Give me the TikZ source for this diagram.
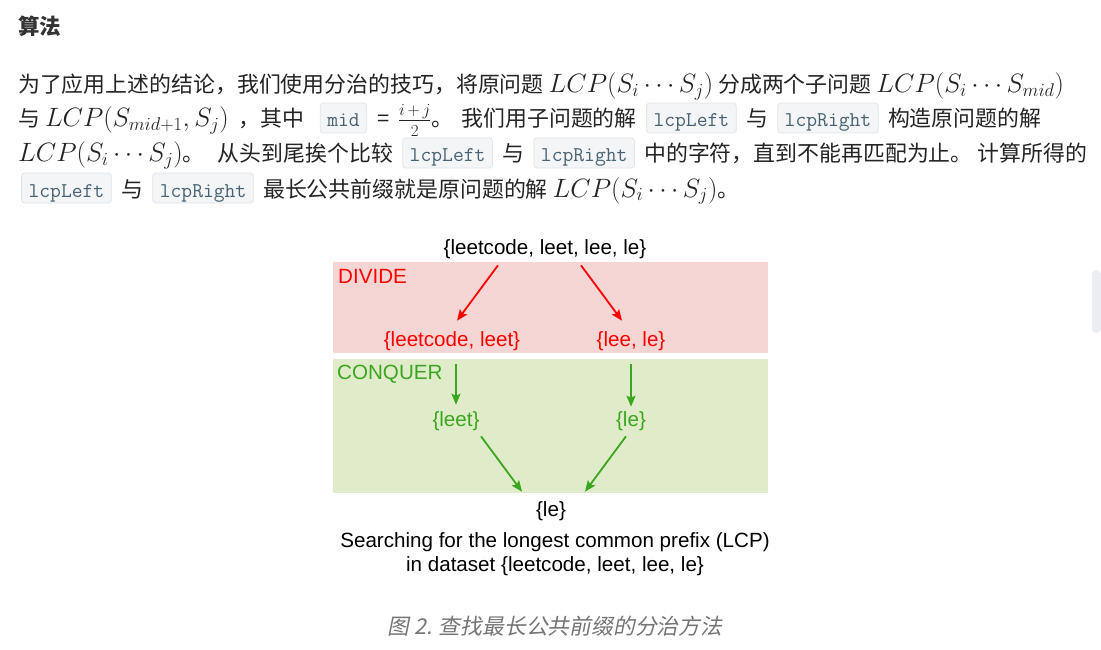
\documentclass[tikz,border=0pt]{standalone}
\usepackage{fix-cm}
\usepackage{amsmath}
\usepackage{fontspec}
\usetikzlibrary{arrows.meta}
\newfontfamily\cjk{Noto Sans CJK SC}
\newfontfamily\cjkit[FakeSlant=0.2]{Noto Sans CJK SC}
\newfontfamily\arial{Liberation Sans}
\definecolor{divbg}{RGB}{246,213,213}
\definecolor{conqbg}{RGB}{224,236,201}
\definecolor{conqgreen}{RGB}{58,166,32}
\definecolor{codebg}{RGB}{243,245,247}
\definecolor{codeline}{RGB}{224,229,234}
\definecolor{codetext}{RGB}{72,98,114}
\definecolor{bodytext}{RGB}{36,36,36}
\definecolor{headtext}{RGB}{51,51,51}
\definecolor{capgray}{RGB}{117,117,117}
\definecolor{scrollbg}{RGB}{234,238,242}
\tikzset{
	codebox/.style={draw=codeline, fill=codebg, rounded corners=3pt, line width=0.8pt,
		inner xsep=7pt, inner ysep=5pt, text height=19pt, text depth=1pt,
		text=codetext, font=\fontsize{21}{24}\ttfamily\selectfont}
}
\newcommand{\mth}[1]{{\fontsize{26.5}{30}\selectfont$#1$}}
\newcommand{\fracpart}[1]{\mbox{\fontsize{17}{17}\selectfont$#1$}}
\newcommand{\code}[1]{\hspace{4.5pt}\tikz[baseline=(cb.base)]\node[codebox] (cb) {#1};\hspace{4.5pt}}

\begin{document}
\begin{tikzpicture}[line join=round, x=1pt, y=-1pt, >={Stealth[length=11pt, width=9pt, inset=2pt]},
	para/.style={inner sep=0pt, anchor=base west, text=bodytext, font=\cjk\fontsize{21.9}{25}\selectfont},
	lbl/.style={inner sep=0pt, font=\arial\fontsize{20.6}{24.5}\selectfont},
	divarr/.style={->, red, line width=1.8pt},
	conqarr/.style={->, conqgreen, line width=1.8pt}]
	\fill[white] (0,0) rectangle (1101,650);
	\useasboundingbox (0,0) rectangle (1101,650);
	\fill[scrollbg, rounded corners=4pt] (1092,270) rectangle (1101,333);
	% text above the figure
	\node[para, text=headtext, font=\cjk\bfseries\fontsize{21.5}{25}\selectfont] (head) at (18,35) {算法};
	\node[para] (l1) at (18,93) {为了应用上述的结论，我们使用分治的技巧，将原问题 \mth{LCP(S_i\cdots S_j)} 分成两个子问题 \mth{LCP(S_i\cdots S_{mid})}};
	\node[para] (l2) at (18,127) {与 \mth{LCP(S_{mid+1},S_j)}\hspace{10pt}，其中\hspace{11pt}\code{mid}\hspace{6pt}=\hspace{8pt}\mth{\frac{\fracpart{i\,{+}\,j}}{\fracpart{2}}}。\hspace{8pt}我们用子问题的解 \code{lcpLeft} 与 \code{lcpRight} 构造原问题的解};
	\node[para] (l3) at (18,162) {\mth{LCP(S_i\cdots S_j)}。\hspace{13pt}从头到尾挨个比较 \code{lcpLeft} 与 \code{lcpRight} 中的字符，直到不能再匹配为止。 计算所得的};
	\node[para] (l4) at (16.5,197) {\code{lcpLeft} 与 \code{lcpRight} 最长公共前缀就是原问题的解 \mth{LCP(S_i\cdots S_j)}。};
	% the figure
	\fill[divbg] (333,262) rectangle (768,353);
	\fill[conqbg] (333,359) rectangle (768,493);
	\node[lbl] (top) at (545,249) {\{leetcode, leet, lee, le\}};
	\node[lbl, red, anchor=west] (div) at (338,276) {DIVIDE};
	\node[lbl, red] (lft) at (452,341) {\{leetcode, leet\}};
	\node[lbl, red] (rgt) at (631,341) {\{lee, le\}};
	\node[lbl, conqgreen, anchor=west] (conq) at (337,374) {CONQUER};
	\node[lbl, conqgreen] (lleet) at (456,421) {\{leet\}};
	\node[lbl, conqgreen] (lle) at (631,421) {\{le\}};
	\node[lbl] (res) at (551,511) {\{le\}};
	\node[lbl, align=center] (desc) at (555,554) {Searching for the longest common prefix (LCP)\\in dataset \{leetcode, leet, lee, le\}};
	\draw[divarr] ([shift={(-47,6.5)}]top.south) -- ([shift={(5,-10.5)}]lft.north);
	\draw[divarr] ([shift={(36,6.5)}]top.south) -- ([shift={(-9,-10.5)}]rgt.north);
	\draw[conqarr] ([shift={(4,13.5)}]lft.south) -- ([shift={(0,-6.5)}]lleet.north);
	\draw[conqarr] ([shift={(0,13.5)}]rgt.south) -- ([shift={(0,-4.5)}]lle.north);
	\draw[conqarr] ([shift={(25,5.5)}]lleet.south) -- ([shift={(-29,-9.5)}]res.north);
	\draw[conqarr] ([shift={(-5,5.5)}]lle.south) -- ([shift={(34,-9.5)}]res.north);
	\node[inner sep=0pt, text=capgray, font=\cjkit\fontsize{21.8}{25}\selectfont] (fig) at (555,626) {图 2. 查找最长公共前缀的分治方法};
\end{tikzpicture}
\end{document}
